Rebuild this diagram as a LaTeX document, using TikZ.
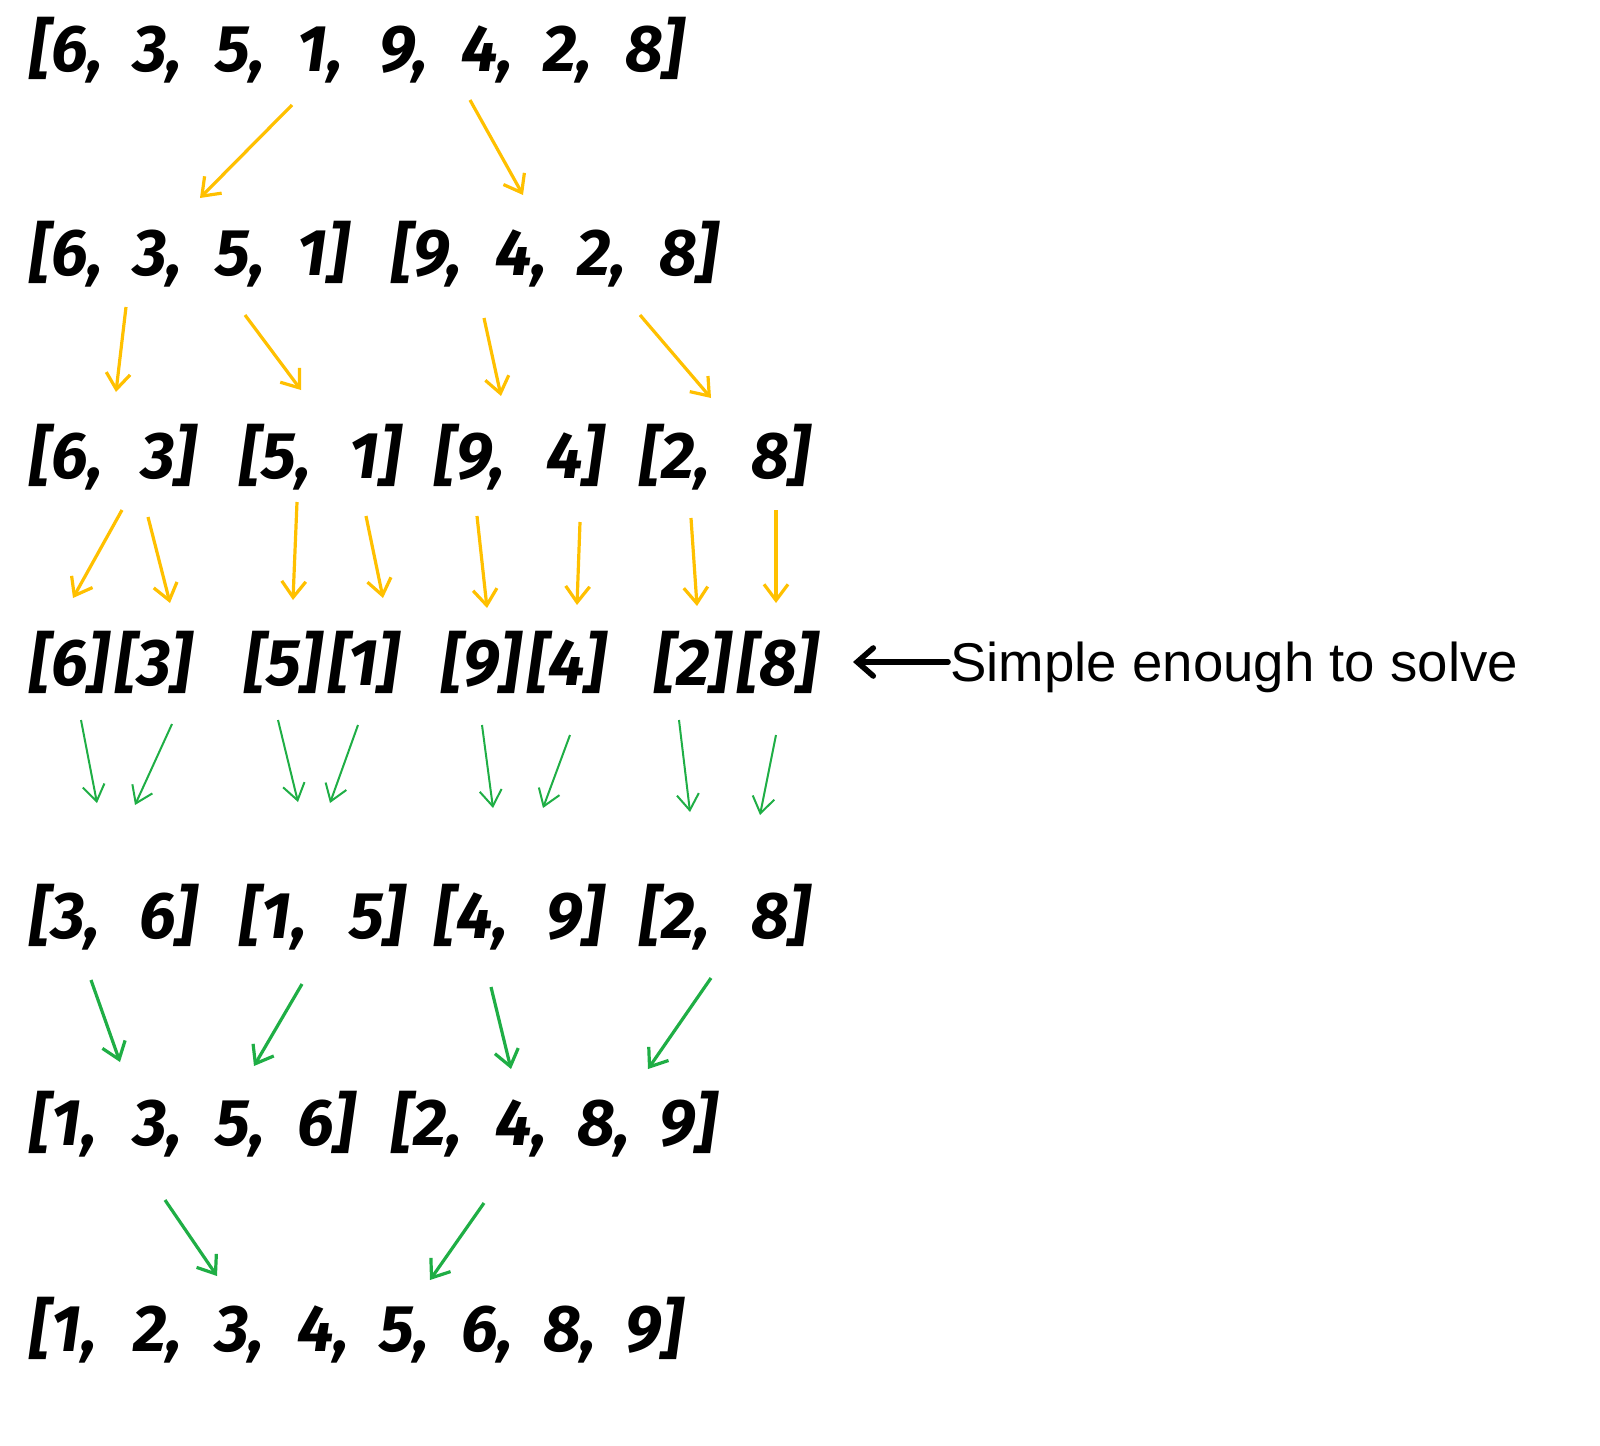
\documentclass[tikz,border=0pt]{standalone}
\usepackage{fontspec}
\setmainfont{Fira Sans}
\newfontfamily\labfont{Liberation Sans}
\usetikzlibrary{arrows.meta}
\definecolor{yel}{HTML}{FFC000}
\definecolor{grn}{HTML}{1FAE45}
\newcommand\cel[2][41pt]{\makebox[#1][l]{#2}}
\begin{document}
\begin{tikzpicture}[x=0.5pt,y=-0.5pt,
  lst/.style={anchor=west,inner sep=0pt,font=\fontsize{33}{38}\selectfont\bfseries\itshape},
  ya/.style={draw=yel,line width=1.6pt,-{Straight Barb[length=8pt,width=12pt]}},
  ga/.style={draw=grn,line width=1pt,-{Straight Barb[length=8pt,width=11pt]}},
  gb/.style={draw=grn,line width=1.6pt,-{Straight Barb[length=8pt,width=12pt]}},
  ba/.style={draw=black,line width=2.8pt,line cap=round,-{Straight Barb[length=8pt,width=14pt,line cap=round]}}]
\useasboundingbox (0,0) rectangle (1600,1445);
% rows
\node[lst] (r1) at (30,50) {[\cel{6,}\cel{3,}\cel{5,}\cel{1,}\cel{9,}\cel{4,}\cel{2,}8]};
\node[lst] (r2a) at (30,254) {[\cel{6,}\cel{3,}\cel{5,}1]};
\node[lst] (r2b) at (392,254) {[\cel{9,}\cel{4,}\cel{2,}8]};
\node[lst] (r3a) at (30,457) {[\cel[45pt]{6,}3]};
\node[lst] (r3b) at (240,457) {[\cel[44pt]{5,}1]};
\node[lst] (r3c) at (435,457) {[\cel[45pt]{9,}4]};
\node[lst] (r3d) at (640,457) {[\cel[45pt]{2,}8]};
\node[lst] (r4a) at (30,662) {[6]\kern4pt[3]};
\node[lst] (r4b) at (245,662) {[5]\kern4pt[1]};
\node[lst] (r4c) at (442,662) {[9]\kern4pt[4]};
\node[lst] (r4d) at (655,662) {[2]\kern4pt[8]};
\node[lst] (r5a) at (30,917) {[\cel[44pt]{3,}6]};
\node[lst] (r5b) at (240,917) {[\cel[44pt]{1,}5]};
\node[lst] (r5c) at (435,917) {[\cel[45pt]{4,}9]};
\node[lst] (r5d) at (640,917) {[\cel[45pt]{2,}8]};
\node[lst] (r6a) at (30,1124) {[\cel{1,}\cel{3,}\cel{5,}6]};
\node[lst] (r6b) at (392,1124) {[\cel{2,}\cel{4,}\cel{8,}9]};
\node[lst] (r7) at (30,1330) {[\cel{1,}\cel{2,}\cel{3,}\cel{4,}\cel{5,}\cel{6,}\cel{8,}9]};
\node[anchor=west,inner sep=0pt,font=\labfont\fontsize{27.3}{32}\selectfont] (lab) at (950,667) {Simple enough to solve};
\coordinate (le) at (853,662);
\draw[ba] ([xshift=-1pt]lab.west |- le) -- (le);
% yellow arrows
\foreach \a/\b/\c/\d in {292/105/200/198, 470/100/523/195,
  126/307/116/392, 245/315/301/390, 484/318/501/396, 640/315/711/398,
  122/510/73/598, 148/517/170/603, 297/502/293/600, 366/516/383/598,
  477/516/487/608, 580/522/577/605, 691/518/697/606, 776/510/776/603}
  {\coordinate (s) at (\a,\b); \coordinate (t) at (\c,\d); \draw[ya] (s) -- (t);}
% green arrows (thin)
\foreach \a/\b/\c/\d in {81/720/97/803, 172/724/135/805, 278/720/298/802, 358/725/330/803,
  482/725/493/808, 570/735/543/808, 679/720/690/812, 776/735/760/815}
  {\coordinate (s) at (\a,\b); \coordinate (t) at (\c,\d); \draw[ga] (s) -- (t);}
% green arrows (thick)
\foreach \a/\b/\c/\d in {91/980/120/1062, 302/984/254/1066, 491/987/511/1069, 711/978/648/1069,
  165/1200/217/1276, 484/1203/430/1280}
  {\coordinate (s) at (\a,\b); \coordinate (t) at (\c,\d); \draw[gb] (s) -- (t);}
\end{tikzpicture}
\end{document}
